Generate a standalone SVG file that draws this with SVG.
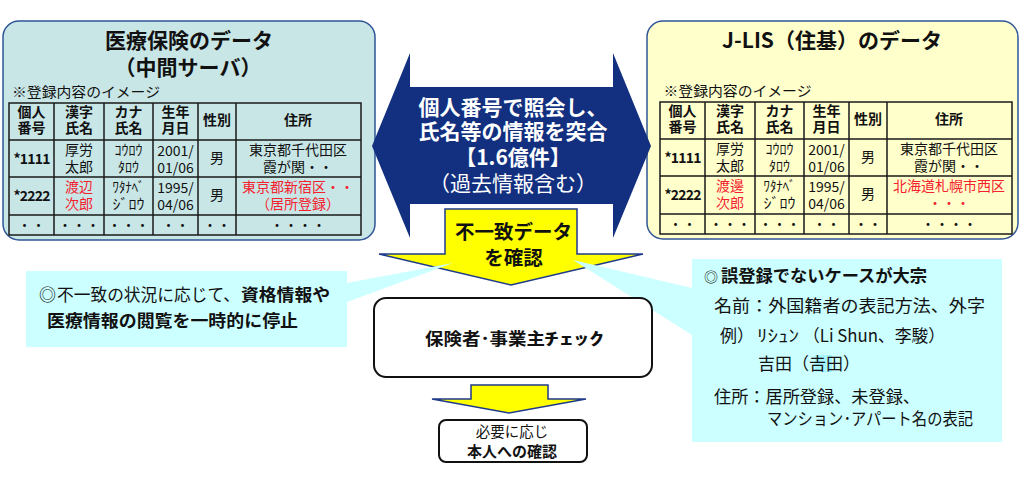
<svg xmlns="http://www.w3.org/2000/svg" width="1035" height="487" viewBox="0 0 1035 487">
<style>
text{font-family:"Noto Sans CJK JP","Noto Sans",sans-serif;fill:#111;text-anchor:middle}
.t{font-size:21px;font-weight:700}
.n{font-size:14px;font-weight:400}
.b{font-size:14px;font-weight:700}
.r{fill:#f5212f}
.l{font-size:17px;text-anchor:start}
.s{font-weight:700}
.w{fill:#fff;font-size:21px}
.grid{fill:none;stroke:#1a1a1a;stroke-width:1.5}
.panel{stroke:#2f5597;stroke-width:1.5}
.y{fill:#ffff00;stroke:#1f3a8a;stroke-width:1.5}
.c{fill:#ccffff}
.box{fill:#fff;stroke:#111;stroke-width:2}
</style>
<defs>
<g id="grid">
<rect class="grid" x="9" y="103" width="352" height="132"/>
<path class="grid" d="M54 103V235M104 103V235M153 103V235M198 103V235M236 103V235M9 140H361M9 177H361M9 215H361"/>
</g>
<g id="common">
<text class="b" x="31.500" y="117">個人</text><text class="b" x="31.500" y="133">番号</text>
<text class="b" x="79" y="117">漢字</text><text class="b" x="79" y="133">氏名</text>
<text class="b" x="128.500" y="117">カナ</text><text class="b" x="128.500" y="133">氏名</text>
<text class="b" x="175.500" y="117">生年</text><text class="b" x="175.500" y="133">月日</text>
<text class="b" x="217" y="125">性別</text>
<text class="b" x="298" y="125">住所</text>
<text class="b" x="32" y="164" textLength="37">*1111</text>
<text class="n" x="79" y="155">厚労</text><text class="n" x="79" y="172">太郎</text>
<text class="n" x="128.500" y="155" textLength="28" lengthAdjust="spacingAndGlyphs">ｺｳﾛｳ</text><text class="n" x="128.500" y="172" textLength="21" lengthAdjust="spacingAndGlyphs">ﾀﾛｳ</text>
<text class="n" x="175.500" y="156">2001/</text><text class="n" x="175.500" y="173">01/06</text>
<text class="n" x="217" y="163">男</text>
<text class="n" x="298" y="155">東京都千代田区</text><text class="n" x="298" y="172">霞が関・・</text>
<text class="b" x="32" y="201" textLength="37">*2222</text>
<text class="n" x="128.500" y="192" textLength="32" lengthAdjust="spacingAndGlyphs">ﾜﾀﾅﾍﾞ</text><text class="n" x="128.500" y="209" textLength="32" lengthAdjust="spacingAndGlyphs">ｼﾞﾛｳ</text>
<text class="n" x="175.500" y="193">1995/</text><text class="n" x="175.500" y="210">04/06</text>
<text class="n" x="217" y="200">男</text>
<text class="n" x="31.500" y="230">・・</text><text class="n" x="79" y="230">・・・</text>
<text class="n" x="128.500" y="230">・・・</text><text class="n" x="175.500" y="230">・・</text>
<text class="n" x="217" y="230">・・</text><text class="n" x="298" y="230">・・・・</text>
</g>
</defs>

<g id="panel-left">
<rect class="panel" x="3" y="21" width="372" height="219" rx="16" fill="#c8e6e6"/>
<text class="t" x="189" y="48">医療保険のデータ</text>
<text class="t" x="188" y="75">（中間サーバ）</text>
<text class="n" x="86" y="97" textLength="148" lengthAdjust="spacingAndGlyphs">※登録内容のイメージ</text>
<use href="#grid"/><use href="#common"/>
<text class="n r" x="79" y="192">渡辺</text><text class="n r" x="79" y="209">次郎</text>
<text class="n r" x="298" y="192">東京都新宿区・・</text><text class="n r" x="298" y="209">（居所登録）</text>
</g>

<g id="panel-right">
<rect class="panel" x="647" y="21" width="371" height="218" rx="16" fill="#ffffcc"/>
<text class="t" x="832" y="48">J-LIS（住基）のデータ</text>
<text class="n" x="737.500" y="96" textLength="148" lengthAdjust="spacingAndGlyphs">※登録内容のイメージ</text>
<g transform="translate(651 -1)">
<use href="#grid"/><use href="#common"/>
<text class="n r" x="79" y="192">渡邊</text><text class="n r" x="79" y="209">次郎</text>
<text class="n r" x="298" y="192" textLength="112" lengthAdjust="spacingAndGlyphs">北海道札幌市西区</text><text class="n r" x="298" y="209">・・・</text>
</g>
</g>

<g id="connectors">
<path id="match-arrow" d="M372 146L410 53V87H613V53L651 146L613 238V204H410V238Z" fill="#12307f"/>
<path id="check-arrow" class="y" d="M445 209H577V254H643L511 285L379 254H445Z"/>
<path id="tail-left" class="c" d="M347 283L453 263L347 302Z"/>
<path id="tail-right" class="c" d="M692 288L573 260L692 335Z"/>
<path id="down-arrow" class="y" d="M471 385H548V399H586L509 413L432 399H471Z"/>
</g>

<g id="match-label">
<text class="w s" x="513" y="115">個人番号で照会し、</text>
<text class="w s" x="513" y="139">氏名等の情報を突合</text>
<text class="w s" x="513" y="165">【1.6億件】</text>
<text class="w" x="513" y="191">（過去情報含む）</text>
</g>
<g id="check-label">
<text class="s" style="font-size:19.500px" x="513.500" y="239">不一致データ</text>
<text class="s" style="font-size:19.500px" x="513.500" y="265">を確認</text>
</g>

<g id="callout-left">
<rect class="c" x="26" y="271" width="321" height="76"/>
<text class="l" x="39" y="301">◎</text>
<text class="l" x="57" y="301" textLength="183" lengthAdjust="spacingAndGlyphs">不一致の状況に応じて、</text>
<text class="l s" x="241" y="301" textLength="89" lengthAdjust="spacingAndGlyphs">資格情報や</text>
<text class="l s" x="47" y="327" textLength="251" lengthAdjust="spacingAndGlyphs">医療情報の閲覧を一時的に停止</text>
</g>

<g id="callout-right">
<rect class="c" x="692" y="259" width="310" height="183"/>
<text class="l" style="font-size:14px" x="704" y="282">◎</text>
<text class="l s" x="721" y="282" textLength="206" lengthAdjust="spacingAndGlyphs">誤登録でないケースが大宗</text>
<text class="l" x="714" y="312" textLength="271" lengthAdjust="spacingAndGlyphs">名前：外国籍者の表記方法、外字</text>
<text class="l" x="720" y="342">例）</text>
<text class="l" x="757" y="342" textLength="42" lengthAdjust="spacingAndGlyphs">ﾘｼｭﾝ</text>
<text class="l" x="803" y="342" textLength="142" lengthAdjust="spacingAndGlyphs">（Li Shun、李駿）</text>
<rect x="815" y="355" width="17" height="17" fill="#a6f4ff"/>
<text class="l" x="758" y="370" textLength="102" lengthAdjust="spacingAndGlyphs">吉田（𠮷田）</text>
<text class="l" x="714" y="403" textLength="206" lengthAdjust="spacingAndGlyphs">住所：居所登録、未登録、</text>
<text class="l" x="767" y="425" textLength="206" lengthAdjust="spacingAndGlyphs">マンション･アパート名の表記</text>
</g>

<g id="check-box">
<rect class="box" x="374" y="298" width="278" height="79" rx="12"/>
<text class="s l" x="425" y="345" textLength="120" lengthAdjust="spacingAndGlyphs">保険者･事業主</text>
<text class="s l" x="544" y="345" textLength="60" lengthAdjust="spacingAndGlyphs">ﾁｪｯｸ</text>
</g>

<g id="confirm-box">
<rect class="box" x="439" y="420" width="148" height="42" rx="7"/>
<text style="font-size:14.500px" x="512" y="437">必要に応じ</text>
<text class="s" style="font-size:15px" x="512" y="457">本人への確認</text>
</g>
</svg>
